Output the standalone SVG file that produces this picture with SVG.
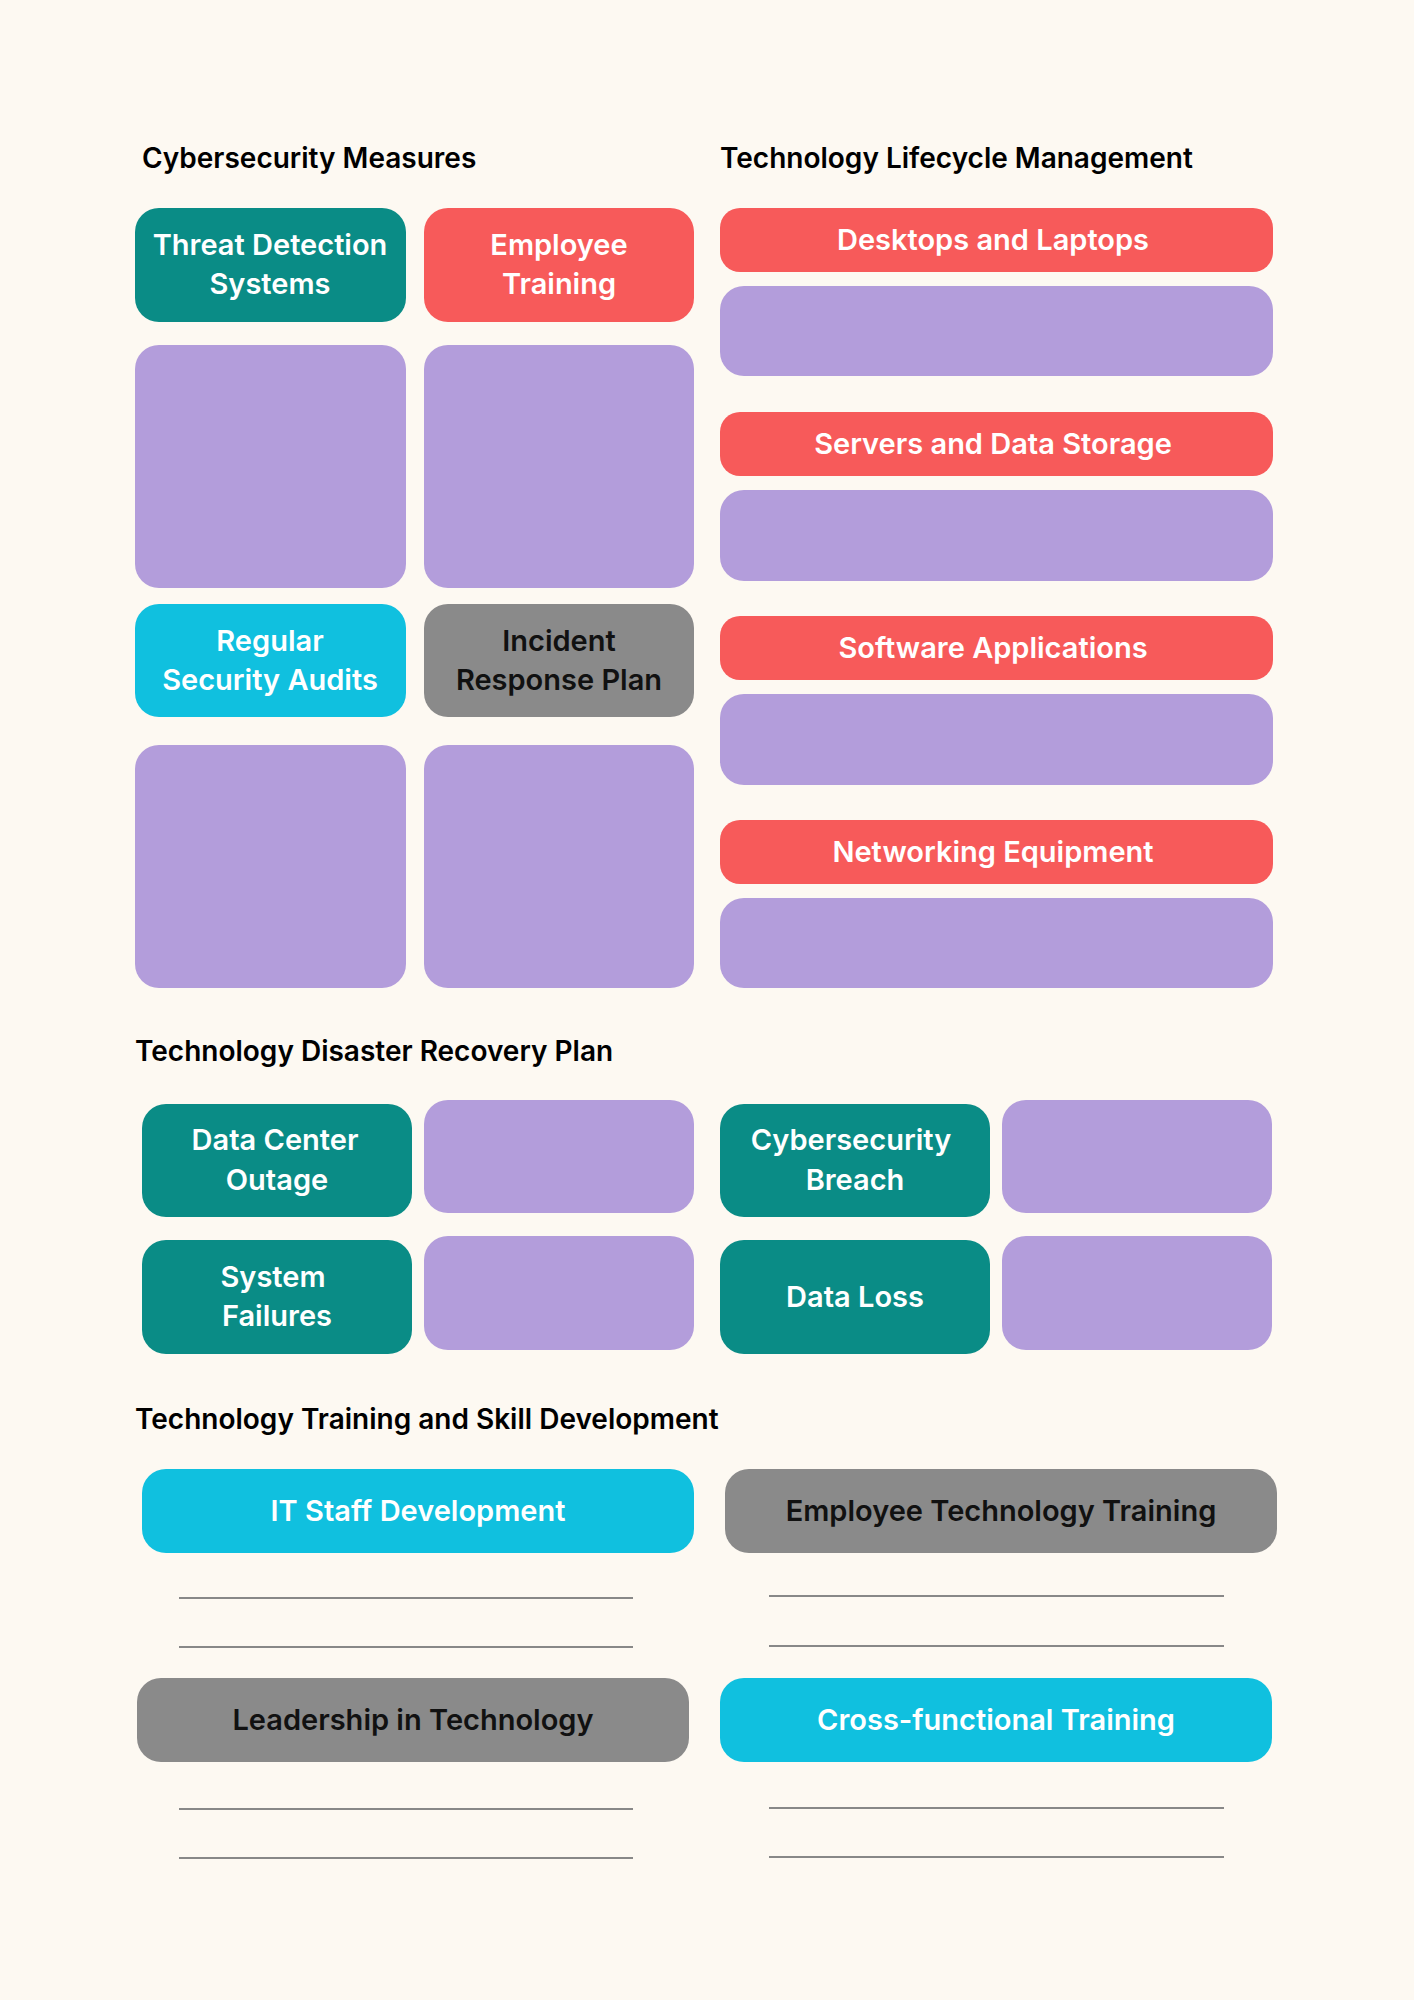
<svg xmlns="http://www.w3.org/2000/svg" width="1414" height="2000" viewBox="0 0 1414 2000">
<style>
.h{font-family:Inter,"Liberation Sans",sans-serif;font-weight:600;font-size:28px;fill:#000}
.t{font-family:Inter,"Liberation Sans",sans-serif;font-weight:600;font-size:29px;text-anchor:middle}
.w{fill:#fff}.k{fill:#111}
.teal{fill:#0a8c86}.red{fill:#f75a5a}.pur{fill:#b39ddb}.cyan{fill:#10c0df}.gray{fill:#8a8a8a}
.ln{stroke:#888;stroke-width:2}
</style>
<rect width="1414" height="2000" fill="#fdf9f2"/>
<text class="h" x="142" y="168">Cybersecurity Measures</text>
<text class="h" x="720" y="168">Technology Lifecycle Management</text>
<text class="h" x="135" y="1061">Technology Disaster Recovery Plan</text>
<text class="h" x="135" y="1429">Technology Training and Skill Development</text>

<g id="threat"><rect class="teal" x="135" y="208" width="271" height="114" rx="24"/><text class="t w" x="270" y="255">Threat Detection</text><text class="t w" x="270" y="294">Systems</text></g>
<g id="emptrain"><rect class="red" x="424" y="208" width="270" height="114" rx="24"/><text class="t w" x="559" y="255">Employee</text><text class="t w" x="559" y="294">Training</text></g>
<g id="p1"><rect class="pur" x="135" y="345" width="271" height="243" rx="24"/></g>
<g id="p2"><rect class="pur" x="424" y="345" width="270" height="243" rx="24"/></g>
<g id="audits"><rect class="cyan" x="135" y="604" width="271" height="113" rx="24"/><text class="t w" x="270" y="651">Regular</text><text class="t w" x="270" y="690">Security Audits</text></g>
<g id="incident"><rect class="gray" x="424" y="604" width="270" height="113" rx="24"/><text class="t k" x="559" y="651">Incident</text><text class="t k" x="559" y="690">Response Plan</text></g>
<g id="p3"><rect class="pur" x="135" y="745" width="271" height="243" rx="24"/></g>
<g id="p4"><rect class="pur" x="424" y="745" width="270" height="243" rx="24"/></g>

<g id="desktops"><rect class="red" x="720" y="208" width="553" height="64" rx="20"/><text class="t w" x="993" y="250">Desktops and Laptops</text></g>
<g id="p5"><rect class="pur" x="720" y="286" width="553" height="90" rx="24"/></g>
<g id="servers"><rect class="red" x="720" y="412" width="553" height="64" rx="20"/><text class="t w" x="993" y="454">Servers and Data Storage</text></g>
<g id="p6"><rect class="pur" x="720" y="490" width="553" height="91" rx="24"/></g>
<g id="software"><rect class="red" x="720" y="616" width="553" height="64" rx="20"/><text class="t w" x="993" y="658">Software Applications</text></g>
<g id="p7"><rect class="pur" x="720" y="694" width="553" height="91" rx="24"/></g>
<g id="network"><rect class="red" x="720" y="820" width="553" height="64" rx="20"/><text class="t w" x="993" y="862">Networking Equipment</text></g>
<g id="p8"><rect class="pur" x="720" y="898" width="553" height="90" rx="24"/></g>

<g id="dco"><rect class="teal" x="142" y="1104" width="270" height="113" rx="24"/><text class="t w" x="275" y="1150">Data Center</text><text class="t w" x="277" y="1190">Outage</text></g>
<g id="p9"><rect class="pur" x="424" y="1100" width="270" height="113" rx="24"/></g>
<g id="breach"><rect class="teal" x="720" y="1104" width="270" height="113" rx="24"/><text class="t w" x="851" y="1150">Cybersecurity</text><text class="t w" x="855" y="1190">Breach</text></g>
<g id="p10"><rect class="pur" x="1002" y="1100" width="270" height="113" rx="24"/></g>
<g id="sysfail"><rect class="teal" x="142" y="1240" width="270" height="114" rx="24"/><text class="t w" x="273" y="1287">System</text><text class="t w" x="277" y="1326">Failures</text></g>
<g id="p11"><rect class="pur" x="424" y="1236" width="270" height="114" rx="24"/></g>
<g id="dataloss"><rect class="teal" x="720" y="1240" width="270" height="114" rx="24"/><text class="t w" x="855" y="1307">Data Loss</text></g>
<g id="p12"><rect class="pur" x="1002" y="1236" width="270" height="114" rx="24"/></g>

<g id="itstaff"><rect class="cyan" x="142" y="1469" width="552" height="84" rx="24"/><text class="t w" x="418" y="1521">IT Staff Development</text></g>
<g id="emptech"><rect class="gray" x="725" y="1469" width="552" height="84" rx="24"/><text class="t k" x="1001" y="1521">Employee Technology Training</text></g>
<g id="leader"><rect class="gray" x="137" y="1678" width="552" height="84" rx="24"/><text class="t k" x="413" y="1730">Leadership in Technology</text></g>
<g id="cross"><rect class="cyan" x="720" y="1678" width="552" height="84" rx="24"/><text class="t w" x="996" y="1730">Cross-functional Training</text></g>

<g id="lines">
<line class="ln" x1="179" y1="1598" x2="633" y2="1598"/><line class="ln" x1="179" y1="1647" x2="633" y2="1647"/>
<line class="ln" x1="769" y1="1596" x2="1224" y2="1596"/><line class="ln" x1="769" y1="1646" x2="1224" y2="1646"/>
<line class="ln" x1="179" y1="1809" x2="633" y2="1809"/><line class="ln" x1="179" y1="1858" x2="633" y2="1858"/>
<line class="ln" x1="769" y1="1808" x2="1224" y2="1808"/><line class="ln" x1="769" y1="1857" x2="1224" y2="1857"/>
</g>
</svg>
